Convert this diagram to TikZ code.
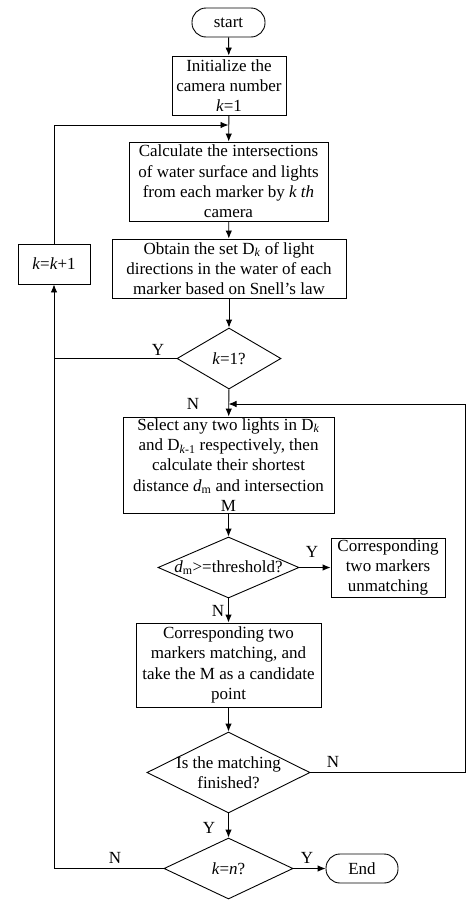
\documentclass[tikz,border=0pt]{standalone}
\usepackage{fontspec}
\setmainfont{Liberation Serif}
\usetikzlibrary{arrows.meta,shapes.geometric}
\begin{document}
\begin{tikzpicture}[x=1pt,y=1pt,
  every node/.style={font=\fontsize{17}{20.3}\selectfont},
  box/.style={draw, line width=0.9pt, inner sep=0pt, align=center},
  term/.style={box, rounded corners=14pt},
  dia/.style={draw, diamond, line width=0.9pt, inner sep=0pt},
  arr/.style={line width=0.9pt, -{Latex[length=8pt,width=6.5pt]}},
  ln/.style={line width=0.9pt},
  lbl/.style={inner sep=0pt}]
\useasboundingbox (0,0) rectangle (474,-908);
\fill[white] (0,0) rectangle (474,-908);

\node[term, minimum width=73pt, minimum height=29pt] (start) at (228.5,-22.5) {start};
\node[box, minimum width=114pt, minimum height=59pt] (init) at (229,-85.5) {Initialize the\\camera number\\\textit{k}=1};
\node[box, minimum width=199pt, minimum height=79pt] (calc) at (228.5,-181.5) {Calculate the intersections\\of water surface and lights\\from each marker by \textit{k th}\\camera};
\node[box, minimum width=234pt, minimum height=59pt] (obtain) at (229,-268.5) {Obtain the set D\textsubscript{\textit{k}} of light\\directions in the water of each\\marker based on Snell's law};
\node[box, minimum width=72pt, minimum height=40pt] (kk) at (54,-264) {\textit{k}=\textit{k}+1};
\node[dia, minimum width=104pt, minimum height=61pt, label={[lbl]center:\textit{k}=1?}] (d1) at (229,-358.5) {};
\node[box, minimum width=211pt, minimum height=96pt] (select) at (228.5,-465) {Select any two lights in D\textsubscript{\textit{k}}\\and D\textsubscript{\textit{k}-1} respectively, then\\calculate their shortest\\distance \textit{d}\textsubscript{m} and intersection\\M};
\node[dia, minimum width=141pt, minimum height=61pt, label={[lbl]center:\textit{d}\textsubscript{m}>=threshold?}] (d2) at (228.5,-567.5) {};
\node[box, minimum width=114pt, minimum height=59pt] (unm) at (388,-567.5) {Corresponding\\two markers\\unmatching};
\node[box, minimum width=185pt, minimum height=84pt] (corr) at (228.5,-665) {Corresponding two\\markers matching, and\\take the M as a candidate\\point};
\node[dia, minimum width=163pt, minimum height=81pt, label={[lbl, align=center]center:Is the matching\\finished?}] (d3) at (228.5,-772.5) {};
\node[dia, minimum width=129pt, minimum height=61pt, label={[lbl]center:\textit{k}=\textit{n}?}] (d4) at (228.5,-868.5) {};
\node[term, minimum width=72pt, minimum height=29pt] (end) at (362,-868.5) {End};

\coordinate (j1) at (228.5,-125);
\coordinate (j2) at (228.5,-404);
\coordinate (rr) at (465,-772.5);

\draw[arr] (start) -- (init);
\draw[arr] (init) -- (calc);
\draw[arr] (kk.north) |- (j1);
\draw[arr] (calc) -- (obtain);
\draw[arr] (obtain) -- (d1);
\draw[ln] (d1.west) -- (d1.west -| kk.south);
\draw[arr] (d1) -- (select);
\draw[arr] (d3.east) -- (rr) |- (j2);
\draw[arr] (select) -- (d2);
\draw[arr] (d2) -- (unm);
\draw[arr] (d2) -- (corr);
\draw[arr] (corr) -- (d3);
\draw[arr] (d3) -- (d4);
\draw[arr] (d4) -- (end);
\draw[arr] (d4.west) -| (kk.south);

\node[lbl] (ly1) at (158,-350) {Y};
\node[lbl] (ln1) at (193,-404) {N};
\node[lbl] (ly2) at (312,-552) {Y};
\node[lbl] (ln2) at (218,-611) {N};
\node[lbl] (ln3) at (333,-762) {N};
\node[lbl] (ly3) at (209,-828) {Y};
\node[lbl] (ln4) at (115,-858) {N};
\node[lbl] (ly4) at (307,-858) {Y};
\end{tikzpicture}
\end{document}
